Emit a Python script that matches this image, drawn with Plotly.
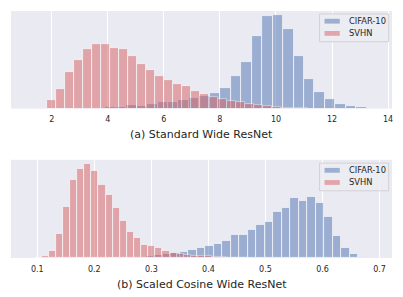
import numpy as np
import plotly.graph_objects as go

# ---------- data (bar heights in arbitrary count units) ----------
# (a) Standard Wide ResNet
cifar_a_start = 2.043
cifar_a_width = 0.3732
cifar_a = [0, 0, 0.2, 0.4, 0.8, 1.4, 2, 3.3, 2.7, 4.3, 7, 7, 9, 11, 13,
           15.7, 20.7, 33, 47, 73, 93, 94, 80, 53, 30, 16.3, 9.7, 5, 3, 1.3]
svhn_a_start = 1.521
svhn_a_width = 0.3207
svhn_a = [0.7, 8.3, 19.7, 37, 49.3, 60.3, 65, 65, 61.3, 60, 52.7, 45, 39, 33.3, 28.3,
          24.3, 22.7, 17.7, 14.5, 11.5, 9.7, 8.1, 6.3, 4.2, 3.8, 2.5, 1.8, 1.0, 0.3, 0.1]

# (b) Scaled Cosine Wide ResNet
cifar_b_start = 0.2305
cifar_b_width = 0.014912
cifar_b = [0.3, 0.6, 1.0, 1.5, 2.3, 3.0, 4.0, 5.0, 6.5, 8.6, 9.8, 12.3, 14, 17, 23.3,
           23, 28.3, 33, 36.2, 45.8, 50.2, 59.8, 57.6, 61.5, 55.6, 41.3, 22, 10.6, 4.6, 1.3]
svhn_b_start = 0.0951
svhn_b_width = 0.012456
svhn_b = [0.5, 2.3, 7.6, 24.3, 51, 78, 89.3, 94, 87.5, 73.5, 63.5, 50, 37.5, 26.5, 20,
          13.3, 12.3, 10, 7, 5.5, 4.3, 3.4, 2.6, 2.2, 1.8, 1.4, 1.0, 0.5, 0.2, 0.1]

ticks_a = [2, 4, 6, 8, 10, 12, 14]
ticks_b = [0.1, 0.2, 0.3, 0.4, 0.5, 0.6, 0.7]
title_a = "(a) Standard Wide ResNet"
title_b = "(b) Scaled Cosine Wide ResNet"
names = ["CIFAR-10", "SVHN"]

# ---------- styling ----------
BLUE = "rgb(76,114,176)"
RED = "rgb(214,95,95)"
BG = "#EAEAF2"
TXT = "#262626"
FONT = "DejaVu Sans"

# The page body has an 8px default margin; the figure is sized so that the
# plotting areas land where the reference has them.
OFF = 8
W, H = 403 - OFF, 297 - OFF
ML, MR, MT, MB = 11 - OFF, 11.3, 11 - OFF, 38.7
PW = W - ML - MR
PH = H - MT - MB


def px_x(x):  # absolute window pixel -> paper x
    return (x - OFF - ML) / PW


def px_y(y):  # absolute window pixel -> paper y
    return (H - MB - (y - OFF)) / PH


def centers(start, width, n):
    return start + width * (np.arange(n) + 0.5)


fig = go.Figure()


def add_hist(vals, start, width, color, name, xa, ya):
    fig.add_trace(go.Bar(
        x=centers(start, width, len(vals)), y=vals, width=width,
        marker=dict(color=color, line=dict(color="white", width=0.8)),
        opacity=0.5, name=name, xaxis=xa, yaxis=ya, showlegend=False,
    ))


add_hist(cifar_a, cifar_a_start, cifar_a_width, BLUE, names[0], "x", "y")
add_hist(svhn_a, svhn_a_start, svhn_a_width, RED, names[1], "x", "y")
add_hist(cifar_b, cifar_b_start, cifar_b_width, BLUE, names[0], "x2", "y2")
add_hist(svhn_b, svhn_b_start, svhn_b_width, RED, names[1], "x2", "y2")

ymax_a = max(max(cifar_a), max(svhn_a)) * 1.045
ymax_b = max(max(cifar_b), max(svhn_b)) * 1.045

xcommon = dict(showgrid=True, gridcolor="white", gridwidth=1, zeroline=False,
               showline=False, ticks="outside", ticklen=3, tickcolor="rgba(0,0,0,0)",
               tickfont=dict(family=FONT, size=8, color=TXT), automargin=False)
ycommon = dict(showgrid=False, zeroline=False, showline=False, showticklabels=False,
               ticks="", automargin=False)

shapes = []
annotations = [
    dict(text=title_a, xref="paper", yref="paper", x=0.5, y=px_y(135), xanchor="center",
         yanchor="middle", showarrow=False, font=dict(family=FONT, size=11, color=TXT)),
    dict(text=title_b, xref="paper", yref="paper", x=0.5, y=px_y(285), xanchor="center",
         yanchor="middle", showarrow=False, font=dict(family=FONT, size=11, color=TXT)),
]


def add_legend(top):
    # frame
    shapes.append(dict(type="rect", xref="paper", yref="paper",
                       x0=px_x(319.3), x1=px_x(388.3), y0=px_y(top + 27.7), y1=px_y(top),
                       fillcolor="rgba(236,236,243,0.85)",
                       line=dict(color="#cccccc", width=0.8), layer="above"))
    for i, (nm, col) in enumerate(zip(names, [BLUE, RED])):
        cy = top + 7.2 + i * 12.2
        shapes.append(dict(type="rect", xref="paper", yref="paper",
                           x0=px_x(324.3), x1=px_x(339.5), y0=px_y(cy + 2.4), y1=px_y(cy - 2.4),
                           fillcolor=col, opacity=0.5, line=dict(width=0), layer="above"))
        annotations.append(dict(text=nm, xref="paper", yref="paper", x=px_x(346.3),
                                y=px_y(cy), xanchor="left", yanchor="middle", showarrow=False,
                                font=dict(family=FONT, size=8.3, color=TXT)))


add_legend(14.0)
add_legend(163.3)

fig.update_layout(
    width=W, height=H,
    margin=dict(l=ML, r=MR, t=MT, b=MB, autoexpand=False),
    paper_bgcolor="white", plot_bgcolor=BG,
    barmode="overlay", bargap=0, showlegend=False,
    xaxis=dict(domain=[0, 1], anchor="y", range=[0.546, 14.14], tickvals=ticks_a,
               ticktext=[str(t) for t in ticks_a], **xcommon),
    yaxis=dict(domain=[px_y(108.7), 1], anchor="x", range=[0, ymax_a], **ycommon),
    xaxis2=dict(domain=[0, 1], anchor="y2", range=[0.0539, 0.7218], tickvals=ticks_b,
                ticktext=[f"{t:.1f}" for t in ticks_b], **xcommon),
    yaxis2=dict(domain=[0, px_y(160)], anchor="x2", range=[0, ymax_b], **ycommon),
    shapes=shapes,
    annotations=annotations,
)

fig.write_html("out.html")
